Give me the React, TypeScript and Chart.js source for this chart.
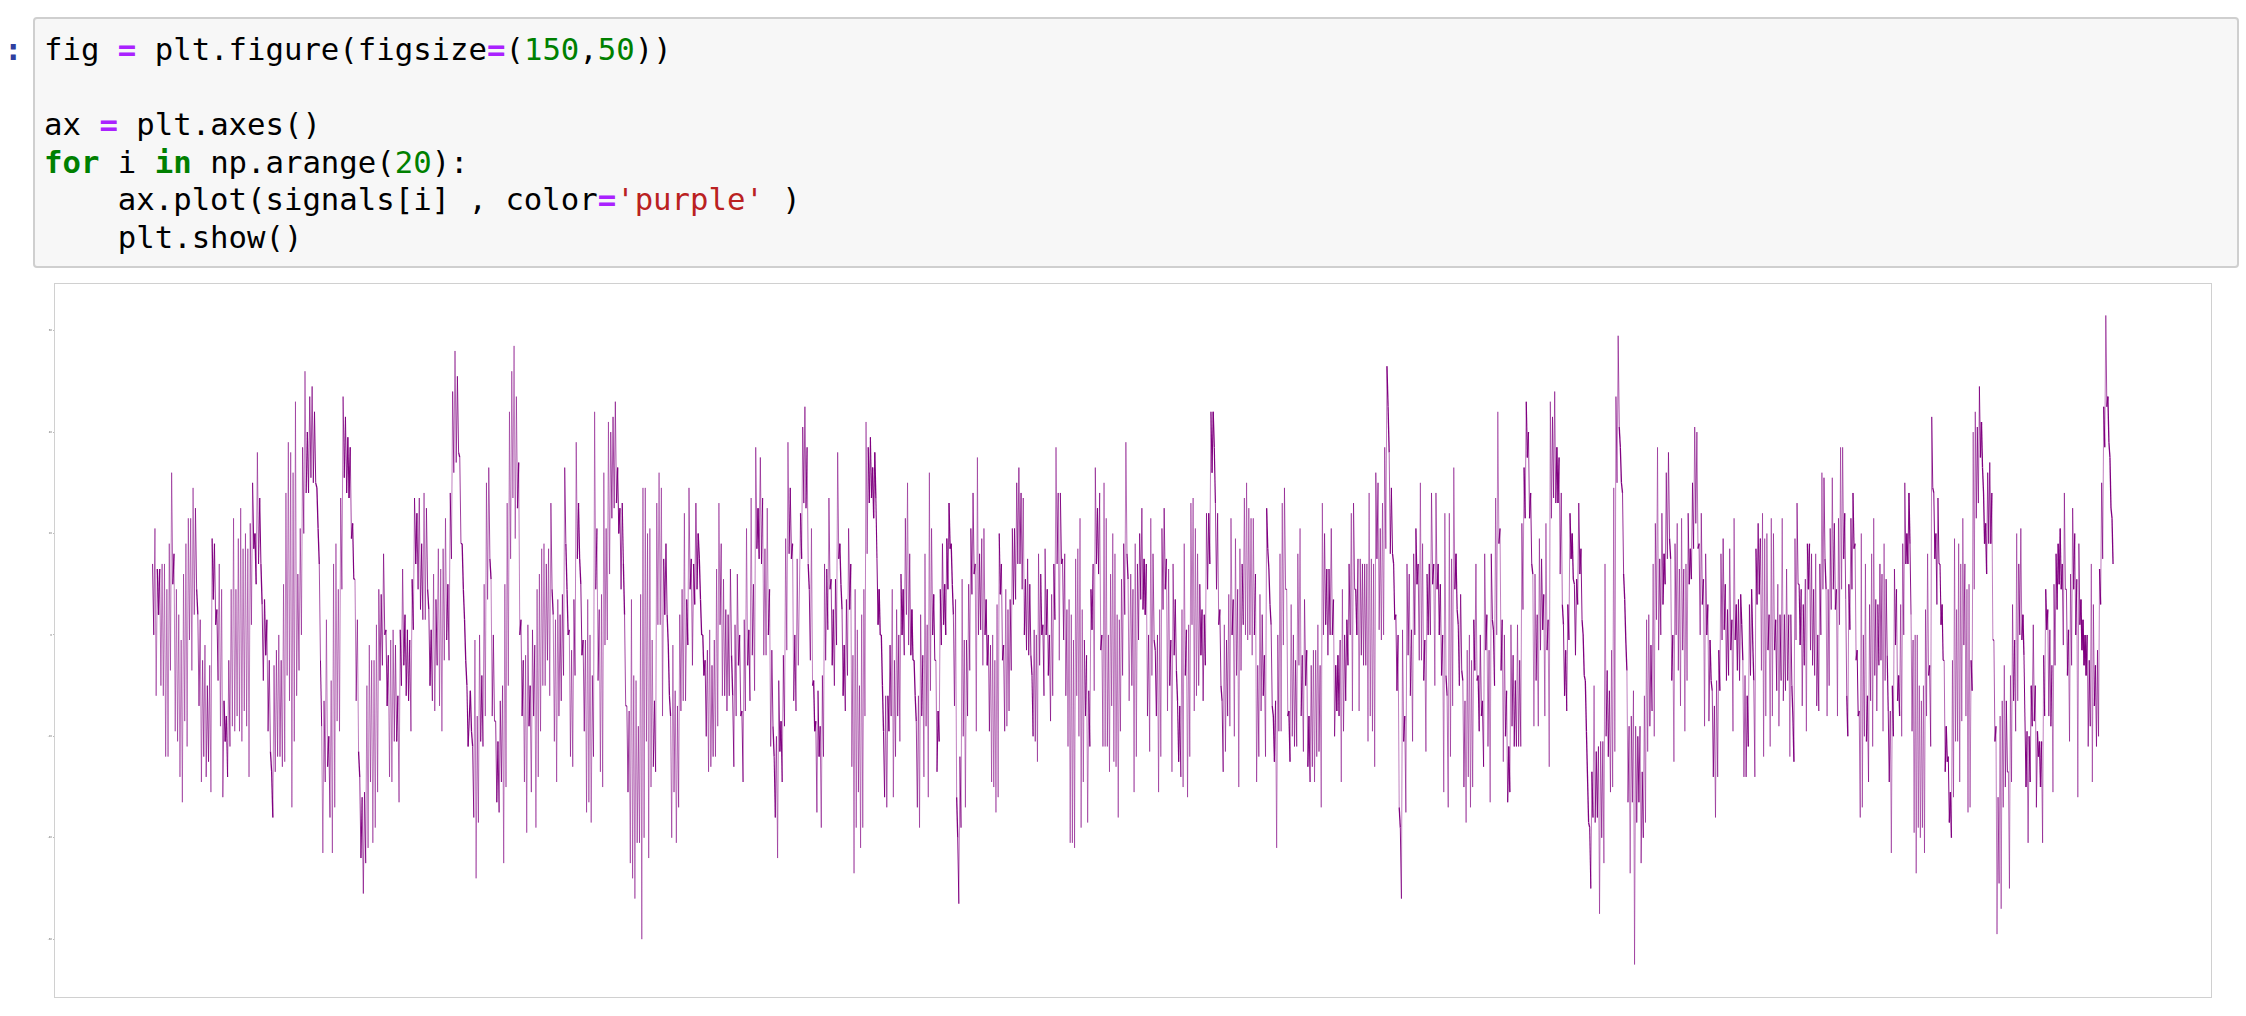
import React, { useEffect, useRef } from "react";
import { Chart, registerables } from "chart.js";

Chart.register(...registerables);

// Alternating crest / trough readings of the signal, one array per stretch of the x axis.
const signalA = [14,0,21,-12,13,4,13,-10,14,-12,14,-24,9,-24,18,-7,32,10,16,-19,9,-21,4,-28,-1,-33,12,-17,18,-22,23,-1,23,-7,29,4,25,9,4,-14,3,-29,-5,-24,-2,-28,-10,-25,-6,-31,19,7,18,2,5,-9,14,-18,9,-32,-13,-21,-16,-28,-5,-22,9,-18,23,-19,9,-16,19,-19,25,-21,17,-15,20,-18,17,-28,22,2,30,17,20,10,36,14,27,14,6,-9,7,-4,3,-19,-5,-23,-27,-36,-6,-27,-3,-24,0,-24,-5,-26,10,-25,28,-8,38,-13,36,-34,32,-21,46,-12,12,-7,21,0,37,20,52,28,40,28,47,31,49,30,44,30,29,21,14,-5,-18,-43,-13,-29,3,-26,-20,-36,-9,-43,14,-34,18,-17,9,-19,27,9,47,31,43,28,39,27,37,19,22,11,11,-13,3,-23,-28,-44,-32,-51,-31,-45,-10,-42,-2,-29,-5,-41,-5,-38,2,-31,9,-9,8,-6,16,0,1,-14,-4,-28,-1,-29,1,-21,-2,-21,-12,-33,1,-10,13,-6,4,-12,1,-13,-1,-19,11,1,27,14,24,9,27,5,18,3,28,3,25,9,5,-10,1,-13,12,-15,7,-6,17,-14,13,-19,17,-5,23,-1,10,-5,28,15,48,32,56,34,51,36,35,18,18,9,3,-5,-10,-22];
const signalB = [-11,-19,-22,-36,-1,-48,-16,-37,0,-21,-8,-22,10,-16,30,7,33,15,11,-16,0,-17,-17,-33,-21,-35,-13,-29,-10,-45,10,-30,26,-10,44,15,52,27,57,19,47,25,34,0,3,-16,-5,-29,-4,-39,2,-18,-10,-31,1,-16,-2,-38,9,-28,12,-19,17,-10,18,-10,14,-5,17,-12,26,9,4,-21,3,-29,7,-16,4,-13,8,-8,33,18,9,0,1,-24,-3,-26,7,-8,38,15,26,15,10,-4,-1,-19,-1,-35,7,-33,0,-37,-8,-24,44,9,21,-9,5,-27,8,-30,32,-2,21,-1,42,12,40,23,43,25,46,26,33,20,25,9,26,14,4,-14,-14,-31,-15,-45,7,-48,-8,-52,-9,-41,-18,-41,8,-60,29,-40,29,-21,20,-44,21,-30,-1,-26,-13,-27,26,2,32,2,29,-16,15,4,18,4,-2,-12,-16,-40,-2,-31,-11,-41,-14,-34,4,-15,9,-13,24,-13,7,-2,29,9,15,-6,14,6,26,9,20,15,7,0,0,-8,-5,-20,-3,-27,1,-26,-6,-24,-1,-24,13,-18,26,2,18,-12,11,-12,5,-15,4,-12,13,-4,-12,-26,2,-16,12,-6,0,-16,-15,-29,3,-15,21,-6,1,-13,27,-4,10,-11,37,17,25,15,35,14,27,-4,17,-4,25,0,9,-22,-3,-18,-24,-36,-20,-44,-9,-23,-17,-29,-4,-18,19,-3,38,16,29,15,18,-13,0,-15,15,-6];
const signalC = [24,15,41,26,45,25,37,14,9,-5,21,-10,-9,-19,-17,-35,-11,-24,-18,-38,-8,-24,14,-5,13,1,27,9,11,-6,5,-10,11,-2,36,15,18,10,5,-12,-2,-15,7,-8,21,5,14,-26,-4,-47,9,-38,1,-31,-10,-42,4,-38,9,-16,42,16,37,26,39,27,33,23,36,27,15,2,9,0,0,-10,-19,-32,-12,-34,-12,-19,-2,-16,9,-32,-5,-24,5,-16,0,-21,12,0,9,-4,23,4,30,-2,16,-4,5,-5,-5,-12,-17,-34,-12,-38,4,-16,-4,-28,16,-18,2,-32,32,-11,21,0,8,-5,-5,-27,-15,-21,9,-2,18,2,10,0,19,9,26,17,18,10,4,-14,7,-32,-40,-53,-24,-38,11,-20,-1,-34,-1,-16,10,-7,21,8,28,12,14,-19,35,0,16,1,19,-6,21,0,7,-6,0,-19,-2,-29,0,-30,-5,-35,6,-32,20,8,14,-5,-2,-19,9,-18,5,-15,7,-7,21,6,21,7,30,14,33,14,28,9,27,0,11,-3,15,-4,10,-4,-8,-20,1,-21,0,-25,16,-6,12,0,2,-12,17,0,9,-8,0,-17,8,-12,14,3,37,14,28,-5,28,14,15,-1,16,-12,5,-22,7,-41,4,-41,-1,-42,15,-12,17,-20,23,-38,5,-29,-1,-16,-4,-37,-11,-22,9,1,14,-11,33,14,25,12,28,-3,0,-22,30,-22,23,-22,0,-27,12,-14,20,-25,16,-26,4,-36,3,-19,11,-8,18,4,38,16,11,-13];
const signalD = [12,-10,9,-31,18,-24,14,-1,20,7,25,5,15,4,14,-16,0,-23,23,-8,16,-1,-3,-16,0,-31,5,-24,21,5,25,9,15,-15,13,-10,-1,-27,14,-4,7,-7,-13,-25,-14,-28,5,-30,18,-8,1,-32,2,-24,26,2,27,-15,21,-12,16,-10,10,-4,5,-13,4,-6,24,9,24,14,44,32,44,37,26,9,24,2,5,-10,-13,-27,2,-23,-1,-16,8,-18,23,0,7,-20,19,-8,9,-30,17,-7,14,2,27,0,30,-1,25,0,23,-4,23,0,12,-29,-6,-24,8,-15,4,-12,-4,-24,25,17,13,6,2,-14,-16,-25,-13,-42,0,-19,16,-19,26,-2,29,9,9,-16,-15,-25,6,-20,0,-22,-5,-22,16,-6,21,-16,-4,-23,7,-10,-3,-26,-16,-29,-6,-26,-3,-29,-3,-24,2,-23,-6,-34,26,0,20,2,13,-4,13,0,21,0,7,-20,-6,-15,-4,-16,-1,-29,9,-19,0,-13,3,-6,14,0,24,-15,26,9,9,0,15,-15,15,-4,14,-6,14,-6,14,-21,28,-16,15,-19,14,-26,32,15,30,1,21,-1,26,0,37,17,53,45,36,16,29,16,14,3,4,-11,0,-34,-38,-52,1,-21,-16,-35,14,-4,12,-12,1,-21,16,0,21,10,14,-5,30,-5,18,-9,-1,-23,12,0,14,0,28,10,14,-10,28,9,14,0,10,-8,0,-31,24,-8,-12,-34,24,-24,15,-14,33,9,16,5,2,-10];
const signalE = [8,-7,-9,-30,-13,-37,-3,-28,0,-34,-5,-30,3,-7,14,-9,-8,-19,0,-16,-13,-26,16,-3,4,-22,-3,-33,16,3,1,-10,27,0,44,18,21,-7,3,-25,0,-20,-11,-33,-22,-31,2,-18,-4,-22,-9,-22,2,-22,-5,-22,22,5,33,23,46,35,40,23,28,14,12,-18,12,-9,4,-18,19,-3,15,1,8,-16,22,-3,3,-26,46,23,43,27,48,26,37,26,35,12,28,6,2,-12,-3,-15,6,-1,24,15,20,11,10,-4,11,6,26,12,17,3,0,-8,-9,-19,-28,-37,-38,-50,-27,-36,-10,-37,-23,-36,-22,-55,-21,-40,-21,-45,14,-20,-7,-24,-11,-31,-3,-30,29,-23,47,30,59,41,37,30,28,12,7,-1,-7,-33,-18,-47,-16,-33,-11,-65,-18,-37,-20,-33,-18,-45,-27,-40,-12,-37,3,-23,4,-18,-2,-15,14,-20,22,3,37,-3,15,0,24,6,16,10,32,15,36,19,15,-9,0,-25,18,0,22,-7,13,-14,23,-3,13,-19,14,-9,24,10,17,11,30,17,41,22,40,17,18,0,24,6,11,-18,16,0,6,-17,-1,-9,-11,-28,-14,-36,-9,-28,-3,-11,16,-1,19,1,10,-9,5,-8,17,-3,3,-19,23,-1,6,-7,7,-9,8,2,-5,-28,-8,-28,-12,-22,6,-8,9,-1,-9,-28,17,6,22,8,19,-7,24,-24,19,-16,20,-3,4,-22,23,-16,20,-3,3,-11,10,-18,4,-9,23,-13,4,-11,13,-9,4,-24];
const signalF = [4,-10,-16,-25,19,-1,26,10,10,-2,9,-14,6,-6,11,-19,18,9,18,-3,16,-6,9,-8,16,-14,0,-15,14,0,32,9,31,15,9,-16,9,-10,21,5,31,9,22,5,9,-16,23,2,37,9,37,15,24,7,-12,-20,10,1,23,9,28,17,18,-5,-3,-16,-15,-36,20,-34,0,-20,14,-21,-12,-29,6,-13,16,-22,23,-8,7,-15,6,-6,14,-5,12,-19,18,-9,11,-4,-15,-29,-15,-43,-10,-20,13,-2,9,-13,-8,-16,6,-20,18,0,30,14,20,14,28,18,4,-19,-1,-39,0,-47,0,-38,-10,-40,-13,-38,-10,-43,5,-16,16,-8,-6,-22,43,29,28,15,20,6,27,14,14,2,6,-5,-5,-27,-18,-25,-24,-37,-31,-40,-5,-32,19,-21,5,-21,18,-29,14,-17,23,-2,14,-16,9,-35,10,-34,-5,-11,40,9,44,23,41,26,49,35,42,33,28,18,22,12,32,18,34,18,28,-1,-1,-21,-18,-59,-32,-49,-16,-54,-13,-34,-6,-30,-13,-27,-27,-50,-8,-29,6,-13,-1,-19,20,-13,14,0,21,-1,4,-4,-17,-30,-19,-41,-20,-29,-10,-18,2,-17,-10,-34,-19,-24,-21,-30,-21,-41,-4,-16,9,1,5,-16,1,-18,-6,-31,10,-6,16,5,18,10,21,9,14,-2,28,9,9,-8,1,-21,12,-6,25,9,20,0,11,-32,18,2,7,-3,3,-6,0,-8,0,-22,-5,-18,14,-29,6,-14,-6,-22,-3,-20,13,6,30,15,45,37,63,45,47,38,35,25,23,14];

const signalBlocks = [signalA, signalB, signalC, signalD, signalE, signalF];
// First and last sample of each stretch.
const blockStart = [2, 998, 2033, 3068, 4102, 5137];
const blockEnd = [991, 2026, 3063, 4098, 5134, 6147];

const xMin = -307;
const xMax = 6454;
const yMin = -71.4;
const yMax = 69.4;
const xStep = 1000;
const yStep = 20;

const mono = '"DejaVu Sans Mono", monospace';
const K: React.CSSProperties = { color: "#008000", fontWeight: 700 };
const O: React.CSSProperties = { color: "#AA22FF", fontWeight: 700 };
const N: React.CSSProperties = { color: "#008000" };
const S: React.CSSProperties = { color: "#BA2121" };

function CodeCell() {
  return (
    <>
      <div style={{ position: "absolute", left: 4, top: 31, font: `700 30.67px/37.5px ${mono}`, color: "#303F9F" }}>:</div>
      <div
        style={{
          position: "absolute",
          left: 33,
          top: 17,
          width: 2206,
          height: 251,
          boxSizing: "border-box",
          background: "#f7f7f7",
          border: "2px solid #cfcfcf",
          borderRadius: 4,
        }}
      />
      <pre
        style={{
          position: "absolute",
          left: 44,
          top: 31,
          margin: 0,
          font: `400 30.67px/37.5px ${mono}`,
          color: "#000",
        }}
      >
        fig <span style={O}>=</span> plt.figure(figsize<span style={O}>=</span>(<span style={N}>150</span>,<span style={N}>50</span>)){"\n\n"}
        ax <span style={O}>=</span> plt.axes(){"\n"}
        <span style={K}>for</span> i <span style={K}>in</span> np.arange(<span style={N}>20</span>):{"\n"}
        {"    "}ax.plot(signals[i] , color<span style={O}>=</span><span style={S}>'purple'</span> ){"\n"}
        {"    "}plt.show()
      </pre>
    </>
  );
}

export default function App() {
  const ref = useRef<HTMLCanvasElement>(null);

  useEffect(() => {
    if (!ref.current) return;
    const points: { x: number; y: number }[] = [];
    signalBlocks.forEach((block, b) => {
      const dx = (blockEnd[b] - blockStart[b]) / (block.length - 1);
      block.forEach((v, i) => points.push({ x: blockStart[b] + i * dx, y: v }));
    });

    const frame = {
      id: "frame",
      beforeDatasetsDraw(chart: any) {
        const { left, top, width, height } = chart.chartArea;
        const c = chart.ctx;
        c.save();
        c.strokeStyle = "#d0d0d0";
        c.lineWidth = 1;
        c.strokeRect(left + 0.5, top + 0.5, width, height);
        c.restore();
      },
    };

    const chart = new Chart(ref.current, {
      type: "line",
      data: {
        datasets: [
          {
            data: points,
            borderColor: "#800080",
            borderWidth: 0.5,
            pointRadius: 0,
            tension: 0,
            borderJoinStyle: "bevel",
            segment: {
              // Short strokes stand for many samples packed into a narrow band, so they print darker.
              // The parity term keeps each stroke separate so that overlaps build up.
              borderWidth: (ctx: any) => {
                const span = Math.abs(ctx.p0.parsed.y - ctx.p1.parsed.y);
                const w = Math.min(1.3, Math.max(0.5, 13 / Math.max(span, 1)));
                return w + (ctx.p0DataIndex % 2) * 0.001;
              },
            },
          } as any,
        ],
      },
      options: {
        responsive: false,
        animation: false,
        parsing: false,
        normalized: true,
        layout: { padding: { left: 44, top: 283, right: 35, bottom: 19 } },
        plugins: { legend: { display: false }, tooltip: { enabled: false }, title: { display: false } },
        scales: {
          x: {
            type: "linear",
            min: xMin,
            max: xMax,
            afterFit: (s: any) => {
              s.height = 0;
            },
            grid: { drawOnChartArea: false, drawTicks: true, tickLength: 1, color: "#bbb", tickColor: "#bbb" },
            border: { display: false },
            ticks: {
              stepSize: xStep,
              includeBounds: false,
              autoSkip: false,
              maxRotation: 0,
              padding: 0.5,
              color: "#666",
              font: { size: 2.6, family: "DejaVu Sans" },
              callback: (v: any) => String(v),
            },
          },
          y: {
            type: "linear",
            min: yMin,
            max: yMax,
            afterFit: (s: any) => {
              s.width = 10;
            },
            grid: { drawOnChartArea: false, drawTicks: true, tickLength: 1, color: "#bbb", tickColor: "#bbb" },
            border: { display: false },
            ticks: {
              stepSize: yStep,
              includeBounds: false,
              autoSkip: false,
              padding: 1,
              color: "#666",
              font: { size: 2.6, family: "DejaVu Sans" },
              callback: (v: any) => String(v),
            },
          },
        },
      } as any,
      plugins: [frame as any],
    });
    return () => chart.destroy();
  }, []);

  return (
    <div style={{ position: "absolute", left: 0, top: 0, width: 2246, height: 1016, background: "#fff", overflow: "hidden" }}>
      <CodeCell />
      <canvas ref={ref} width={2246} height={1016} style={{ position: "absolute", left: 0, top: 0, display: "block" }} />
    </div>
  );
}
